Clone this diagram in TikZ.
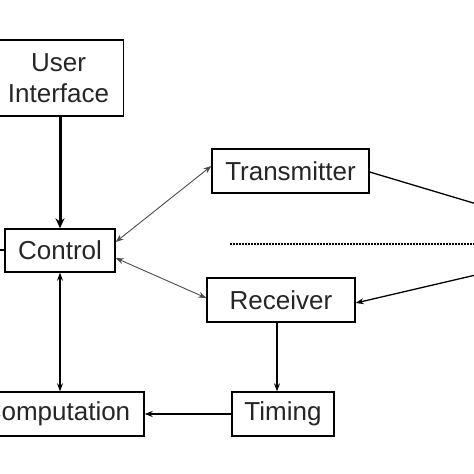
\documentclass[tikz,border=0pt]{standalone}
\usepackage{fontspec}
\setmainfont{Liberation Sans}
\usetikzlibrary{arrows.meta}
\begin{document}
\begin{tikzpicture}[x=1pt,y=-1pt,
  blk/.style={draw=black,line width=1.4pt,fill=white,inner sep=0pt,font=\fontsize{26}{31}\selectfont,align=center,text=black!85},
  conn/.style={line width=1.1pt,-{Stealth[length=8pt,width=6pt]}},
  bconn/.style={line width=1.1pt,{Stealth[length=8pt,width=6pt]}-{Stealth[length=8pt,width=6pt]}},
  thin2/.style={line width=0.9pt,black!70,{Stealth[length=8pt,width=6pt]}-{Stealth[length=8pt,width=6pt]}}]
\useasboundingbox (0,0) rectangle (474,474);
\clip (0,0) rectangle (474,474);
\node[blk,minimum width=130pt,minimum height=76pt] (ui) at (58.5,78) {User\\Interface};
\node[blk,minimum width=110pt,minimum height=43pt] (ctl) at (60,250.5) {Control};
\node[blk,minimum width=157pt,minimum height=44pt] (tx) at (290.5,171) {Transmitter};
\node[blk,minimum width=148pt,minimum height=44pt] (rx) at (281,300) {Receiver};
\node[blk,minimum width=102pt,minimum height=44pt] (tim) at (283,414) {Timing};
\node[blk,minimum width=175pt,minimum height=44pt] (cmp) at (56.5,414) {Computation};
\coordinate (txo) at (480,205);
\coordinate (rxi) at (480,274);
\coordinate (lft) at (-5,250);
\coordinate (d1) at (230,244);
\coordinate (d2) at (480,244);
\draw[line width=3pt,-{Stealth[length=10pt,width=9pt]}] (ui.south -| ctl.north) -- (ctl.north);
\draw[bconn] (ctl.south) -- (cmp.north -| ctl.south);
\draw[thin2] (ctl.east |- 0,242) -- (tx.west |- 0,166);
\draw[thin2] (ctl.east |- 0,258) -- (rx.west |- 0,298);
\draw[line width=1.3pt] (tx.east |- 0,172) -- (txo);
\draw[conn,line width=1.3pt] (rxi) -- (rx.east |- 0,303);
\draw[conn] (rx.south -| 277,0) -- (tim.north -| 277,0);
\draw[conn] (tim.west) -- (cmp.east);
\draw[line width=1.1pt] (lft) -- (ctl.west |- lft);
\draw[line width=2pt,dash pattern=on 2pt off 1pt] (d1) -- (d2);
\end{tikzpicture}
\end{document}
